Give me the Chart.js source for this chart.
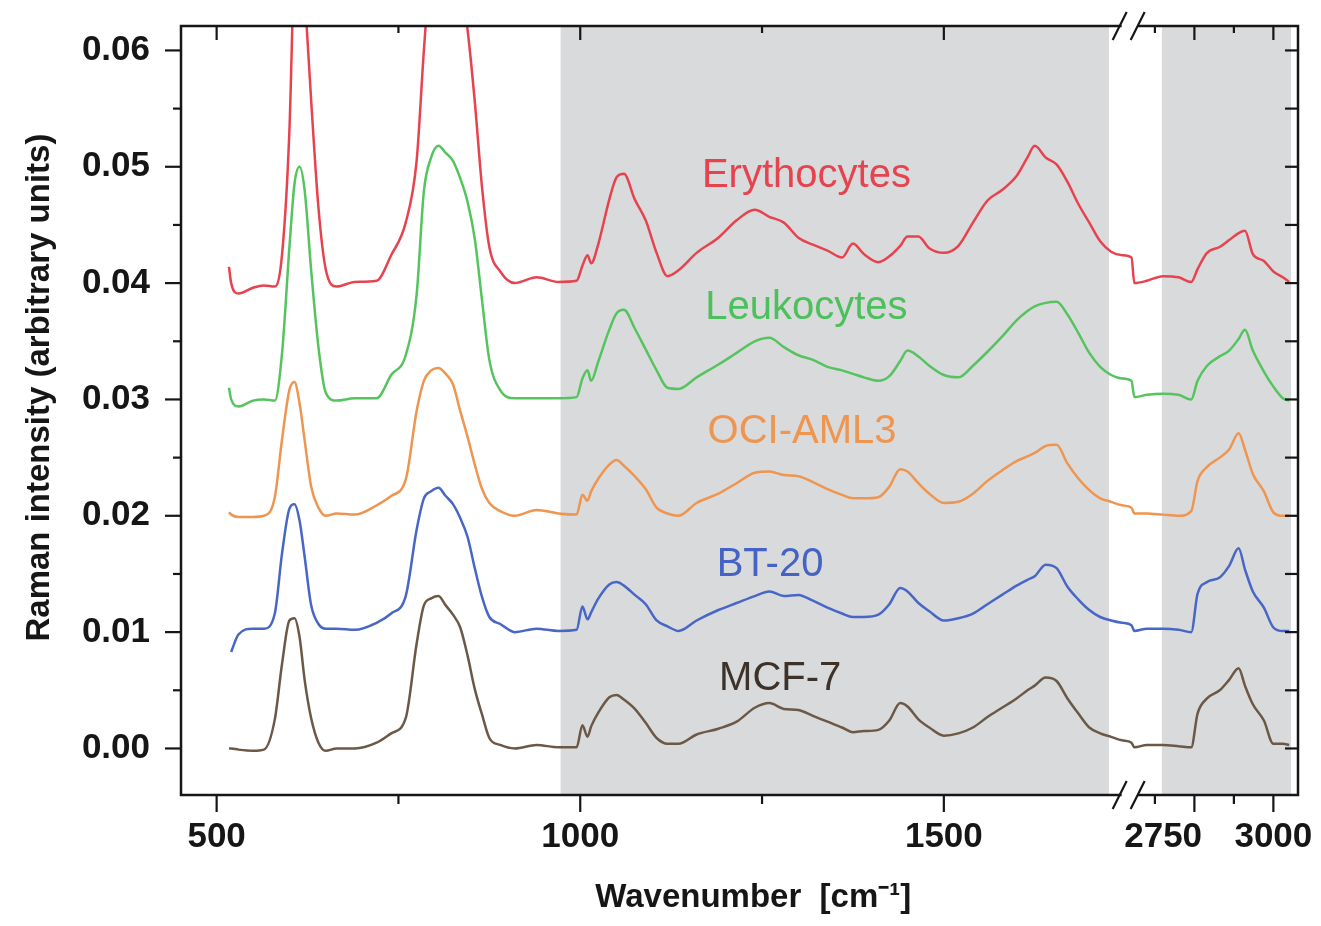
<!DOCTYPE html>
<html>
<head>
<meta charset="utf-8">
<title>Raman spectra of blood and tumour cells</title>
<script src="https://cdn.jsdelivr.net/npm/chart.js@4.4.0/dist/chart.umd.min.js"></script>
<style>
  html, body { margin: 0; padding: 0; background: #fff; }
  #spectra { display: block; }
</style>
</head>
<body>
<canvas id="spectra" width="1321" height="926"></canvas>
<script>
// wavenumbers in cm-1: fingerprint panel, then the CH stretch panel after the axis break
const wavenumbers = [
  517, 520, 530, 550, 565, 580, 590, 600, 607, 614,
  621, 630, 640, 650, 665, 690, 720, 740, 760, 775,
  785, 795, 805, 815, 825, 835, 845, 855, 865, 875,
  890, 910, 940, 970, 995, 1003, 1010, 1015, 1025, 1040,
  1050, 1060, 1075, 1090, 1105, 1120, 1135, 1160, 1190, 1215,
  1240, 1260, 1280, 1300, 1320, 1340, 1360, 1375, 1390, 1410,
  1425, 1440, 1450, 1465, 1480, 1500, 1520, 1540, 1560, 1580,
  1600, 1615, 1625, 1640, 1655, 1670, 1685, 1700, 1715, 1730,
  1745, 1758,
  2560, 2600, 2650, 2700, 2740, 2760, 2790, 2830, 2860, 2890,
  2910, 2935, 2970, 3000, 3030, 3050
];

// spectra as plotted (each one already shifted up by 0.01)
const erythrocytes = [
  0.0414, 0.0400, 0.0391, 0.0396, 0.0398, 0.0397, 0.0425, 0.0530, 0.0680, 0.0720,
  0.0650, 0.0557, 0.0465, 0.0412, 0.0397, 0.0401, 0.0402, 0.0424, 0.0452, 0.0505,
  0.0600, 0.0680, 0.0720, 0.0730, 0.0710, 0.0660, 0.0618, 0.0556, 0.0482, 0.0431,
  0.0410, 0.0400, 0.0405, 0.0401, 0.0402, 0.0415, 0.0424, 0.0417, 0.0434, 0.0472,
  0.0491, 0.0494, 0.0472, 0.0454, 0.0426, 0.0406, 0.0411, 0.0426, 0.0439, 0.0454,
  0.0463, 0.0457, 0.0452, 0.0439, 0.0433, 0.0428, 0.0422, 0.0434, 0.0425, 0.0418,
  0.0423, 0.0432, 0.0440, 0.0440, 0.0430, 0.0426, 0.0432, 0.0452, 0.0471, 0.0480,
  0.0492, 0.0508, 0.0518, 0.0508, 0.0502, 0.0487, 0.0468, 0.0452, 0.0436, 0.0427,
  0.0424, 0.0422,
  0.0400, 0.0402, 0.0406, 0.0405, 0.0401, 0.0412, 0.0426, 0.0431, 0.0437, 0.0443,
  0.0445, 0.0425, 0.0419, 0.0410, 0.0405, 0.0401
];
const leukocytes = [
  0.0310, 0.0300, 0.0294, 0.0299, 0.0300, 0.0299, 0.0340, 0.0430, 0.0485, 0.0500,
  0.0480, 0.0411, 0.0345, 0.0306, 0.0299, 0.0301, 0.0301, 0.0321, 0.0338, 0.0390,
  0.0479, 0.0508, 0.0518, 0.0512, 0.0505, 0.0490, 0.0470, 0.0438, 0.0385, 0.0334,
  0.0308, 0.0301, 0.0301, 0.0301, 0.0302, 0.0318, 0.0325, 0.0316, 0.0333, 0.0360,
  0.0374, 0.0377, 0.0361, 0.0343, 0.0325, 0.0310, 0.0309, 0.0319, 0.0330, 0.0340,
  0.0350, 0.0353, 0.0345, 0.0338, 0.0334, 0.0328, 0.0325, 0.0322, 0.0319, 0.0316,
  0.0320, 0.0333, 0.0342, 0.0337, 0.0329, 0.0321, 0.0319, 0.0329, 0.0341, 0.0354,
  0.0368, 0.0376, 0.0380, 0.0383, 0.0384, 0.0373, 0.0357, 0.0340, 0.0328, 0.0321,
  0.0318, 0.0316,
  0.0302, 0.0304, 0.0305, 0.0304, 0.0300, 0.0316, 0.0329, 0.0337, 0.0342, 0.0352,
  0.0360, 0.0342, 0.0324, 0.0311, 0.0301, 0.0299
];
const ociAml3 = [
  0.0203, 0.0201, 0.0199, 0.0199, 0.0200, 0.0216, 0.0266, 0.0308, 0.0315, 0.0297,
  0.0265, 0.0225, 0.0207, 0.0200, 0.0202, 0.0201, 0.0209, 0.0217, 0.0231, 0.0290,
  0.0316, 0.0325, 0.0327, 0.0322, 0.0313, 0.0290, 0.0268, 0.0244, 0.0223, 0.0211,
  0.0204, 0.0200, 0.0205, 0.0202, 0.0201, 0.0218, 0.0213, 0.0221, 0.0232, 0.0244,
  0.0248, 0.0243, 0.0234, 0.0223, 0.0207, 0.0202, 0.0200, 0.0211, 0.0219, 0.0228,
  0.0237, 0.0238, 0.0235, 0.0234, 0.0229, 0.0223, 0.0218, 0.0215, 0.0215, 0.0216,
  0.0225, 0.0240, 0.0238, 0.0228, 0.0219, 0.0211, 0.0212, 0.0219, 0.0230, 0.0239,
  0.0247, 0.0251, 0.0254, 0.0260, 0.0261, 0.0245, 0.0232, 0.0222, 0.0215, 0.0212,
  0.0209, 0.0207,
  0.0202, 0.0202, 0.0201, 0.0200, 0.0204, 0.0230, 0.0242, 0.0250, 0.0257, 0.0271,
  0.0257, 0.0236, 0.0221, 0.0203, 0.0200, 0.0200
];
const bt20 = [
  null, 0.0083, 0.0098, 0.0103, 0.0103, 0.0116, 0.0168, 0.0206, 0.0210, 0.0196,
  0.0165, 0.0123, 0.0107, 0.0103, 0.0103, 0.0102, 0.0108, 0.0116, 0.0131, 0.0188,
  0.0215, 0.0221, 0.0224, 0.0217, 0.0210, 0.0198, 0.0182, 0.0155, 0.0130, 0.0113,
  0.0107, 0.0100, 0.0103, 0.0101, 0.0102, 0.0122, 0.0111, 0.0117, 0.0129, 0.0141,
  0.0143, 0.0140, 0.0132, 0.0124, 0.0110, 0.0105, 0.0101, 0.0110, 0.0119, 0.0125,
  0.0131, 0.0135, 0.0131, 0.0132, 0.0127, 0.0121, 0.0116, 0.0113, 0.0113, 0.0115,
  0.0124, 0.0138, 0.0135, 0.0125, 0.0118, 0.0110, 0.0112, 0.0116, 0.0124, 0.0132,
  0.0140, 0.0145, 0.0148, 0.0158, 0.0155, 0.0139, 0.0128, 0.0119, 0.0113, 0.0110,
  0.0108, 0.0106,
  0.0101, 0.0103, 0.0103, 0.0102, 0.0100, 0.0133, 0.0143, 0.0147, 0.0157, 0.0172,
  0.0154, 0.0135, 0.0121, 0.0104, 0.0101, 0.0101
];
const mcf7 = [
  0.0000, 0.0000, -0.0001, -0.0002, -0.0001, 0.0025, 0.0073, 0.0110, 0.0112, 0.0096,
  0.0059, 0.0026, 0.0005, -0.0002, 0.0000, 0.0000, 0.0005, 0.0013, 0.0026, 0.0090,
  0.0123, 0.0129, 0.0131, 0.0123, 0.0115, 0.0104, 0.0080, 0.0051, 0.0029, 0.0009,
  0.0003, 0.0000, 0.0003, 0.0001, 0.0001, 0.0020, 0.0010, 0.0019, 0.0031, 0.0044,
  0.0046, 0.0042, 0.0034, 0.0022, 0.0009, 0.0004, 0.0004, 0.0012, 0.0017, 0.0023,
  0.0035, 0.0039, 0.0034, 0.0033, 0.0028, 0.0023, 0.0018, 0.0014, 0.0015, 0.0016,
  0.0024, 0.0039, 0.0036, 0.0025, 0.0018, 0.0011, 0.0013, 0.0018, 0.0027, 0.0035,
  0.0043, 0.0050, 0.0054, 0.0061, 0.0058, 0.0043, 0.0030, 0.0018, 0.0013, 0.0010,
  0.0007, 0.0005,
  0.0001, 0.0003, 0.0003, 0.0002, 0.0001, 0.0030, 0.0043, 0.0050, 0.0059, 0.0069,
  0.0054, 0.0038, 0.0024, 0.0004, 0.0004, 0.0003
];

// axis ticks
const xTickValues = [500, 1000, 1500, 2750, 3000];
const xTickLabels = ['500', '1000', '1500', '2750', '3000'];
const xMinorTicks = [750, 1250, 2625, 2875];
const yTickValues = [0, 0.01, 0.02, 0.03, 0.04, 0.05, 0.06];
const yMinorTicks = [0.005, 0.015, 0.025, 0.035, 0.045, 0.055];

// shaded wavenumber ranges
const shadedBands = [[973, 1727], [2647, 3056]];

// broken x axis: right panel is squeezed and glued after the fingerprint panel
const LEFT_END = 1760;
const RIGHT_START = 2560;
const RIGHT_SCALE = 0.4344;
const BREAK_GAP = 2;
const toAxis = w => w <= LEFT_END ? w : LEFT_END + BREAK_GAP + (w - RIGHT_START) * RIGHT_SCALE;
const LABEL_2750_SHIFT = -43; // the 2750 label sits left of its tick in the original

const FONT = "'Liberation Sans', Arial, Helvetica, sans-serif";
const INK = '#161616';
const SHADE = '#d9dadc';

const series = [
  { name: 'Erythocytes', values: erythrocytes, color: '#e6434f', text: '#e6434f', at: [1311, 0.0492] },
  { name: 'Leukocytes', values: leukocytes, color: '#55c45e', text: '#4cc05a', at: [1311, 0.0379] },
  { name: 'OCI-AML3', values: ociAml3, color: '#ee9550', text: '#ee9550', at: [1305, 0.0272] },
  { name: 'BT-20', values: bt20, color: '#4766c6', text: '#4463c4', at: [1261, 0.0158] },
  { name: 'MCF-7', values: mcf7, color: '#6c5846', text: '#3d3229', at: [1275, 0.0060] }
];

const line = (ctx, x0, y0, x1, y1) => {
  ctx.beginPath();
  ctx.moveTo(x0, y0);
  ctx.lineTo(x1, y1);
  ctx.stroke();
};

const plotDecor = {
  id: 'plotDecor',
  beforeDatasetsDraw(chart) {
    const { ctx, chartArea: a, scales: { x } } = chart;
    ctx.save();
    ctx.fillStyle = SHADE;
    shadedBands.forEach(([from, to]) => {
      const x0 = x.getPixelForValue(toAxis(from));
      const x1 = Math.min(x.getPixelForValue(toAxis(to)), a.right);
      ctx.fillRect(x0, a.top, x1 - x0, a.bottom - a.top);
    });
    ctx.restore();
  },
  afterDatasetsDraw(chart) {
    const { ctx, chartArea: a, scales: { x, y } } = chart;
    ctx.save();

    // curve names
    ctx.font = '40px ' + FONT;
    ctx.textAlign = 'center';
    ctx.textBaseline = 'middle';
    series.forEach(s => {
      ctx.fillStyle = s.text;
      ctx.fillText(s.name, x.getPixelForValue(toAxis(s.at[0])), y.getPixelForValue(s.at[1]));
    });

    // frame
    ctx.strokeStyle = INK;
    ctx.lineWidth = 2.5;
    ctx.strokeRect(a.left, a.top, a.right - a.left, a.bottom - a.top);

    // tick marks: outside on bottom/left, inside on top/right
    ctx.lineWidth = 2.2;
    xTickValues.forEach(w => {
      const px = x.getPixelForValue(toAxis(w));
      line(ctx, px, a.bottom, px, a.bottom + 17);
      line(ctx, px, a.top, px, a.top + 14);
    });
    xMinorTicks.forEach(w => {
      const px = x.getPixelForValue(toAxis(w));
      line(ctx, px, a.bottom, px, a.bottom + 9);
      line(ctx, px, a.top, px, a.top + 7);
    });
    yTickValues.forEach(v => {
      const py = y.getPixelForValue(v);
      line(ctx, a.left - 16, py, a.left, py);
      line(ctx, a.right - 13, py, a.right, py);
    });
    yMinorTicks.forEach(v => {
      const py = y.getPixelForValue(v);
      line(ctx, a.left - 8, py, a.left, py);
      line(ctx, a.right - 13, py, a.right, py);
    });

    // axis break marks
    const bx = (x.getPixelForValue(toAxis(LEFT_END)) + x.getPixelForValue(toAxis(RIGHT_START))) / 2;
    [a.top, a.bottom].forEach(by => {
      ctx.fillStyle = '#fff';
      ctx.fillRect(bx - 12, by - 3, 16, 6);
      ctx.lineWidth = 2.2;
      line(ctx, bx - 21, by + 14, bx - 7, by - 14);
      line(ctx, bx - 3, by + 14, bx + 11, by - 14);
    });
    ctx.restore();
  }
};

const datasets = series.map(s => ({
  label: s.name,
  data: wavenumbers.map((w, i) => ({ x: toAxis(w), y: s.values[i] })),
  borderColor: s.color,
  borderWidth: 2.5,
  pointRadius: 0,
  cubicInterpolationMode: 'monotone',
  fill: false
}));

Chart.defaults.font.family = FONT;
Chart.defaults.color = INK;

// invisible grid ticks only reserve room between frame and labels
const spacer = len => ({
  display: true,
  drawOnChartArea: false,
  drawTicks: true,
  tickLength: len,
  tickColor: 'rgba(0,0,0,0)'
});

new Chart(document.getElementById('spectra'), {
  type: 'line',
  data: { datasets },
  options: {
    responsive: false,
    animation: false,
    devicePixelRatio: 1,
    layout: { padding: { left: 0, right: 23, top: 26, bottom: 0 } },
    plugins: { legend: { display: false }, tooltip: { enabled: false } },
    scales: {
      x: {
        type: 'linear',
        min: 451,
        max: 1987,
        afterBuildTicks: scale => {
          scale.ticks = xTickValues.map((w, i) => ({
            value: toAxis(w) + (xTickLabels[i] === '2750' ? LABEL_2750_SHIFT : 0)
          }));
        },
        afterFit: scale => { scale.height = 131; },
        grid: spacer(21),
        border: { display: false },
        ticks: {
          autoSkip: false,
          maxRotation: 0,
          padding: 0,
          color: INK,
          font: { size: 35, weight: 'bold' },
          callback: (value, index) => xTickLabels[index]
        },
        title: {
          display: true,
          // leading spaces nudge the title right, as in the original
          text: '   Wavenumber  [cm\u207B\u00B9]',
          color: INK,
          font: { size: 33, weight: 'bold' },
          padding: { top: 0, bottom: 8 }
        }
      },
      y: {
        min: -0.004,
        max: 0.0621,
        afterBuildTicks: scale => {
          scale.ticks = yTickValues.map(v => ({ value: v }));
        },
        afterFit: scale => { scale.width = 181; },
        grid: spacer(31),
        border: { display: false },
        ticks: {
          padding: 0,
          color: INK,
          font: { size: 35, weight: 'bold' },
          callback: v => v.toFixed(2)
        },
        title: {
          display: true,
          // leading spaces lift the title, as in the original
          text: '     Raman intensity (arbitrary units)',
          color: INK,
          font: { size: 33, weight: 'bold' },
          padding: { top: 20, bottom: 0 }
        }
      }
    }
  },
  plugins: [plotDecor]
});
</script>
</body>
</html>
